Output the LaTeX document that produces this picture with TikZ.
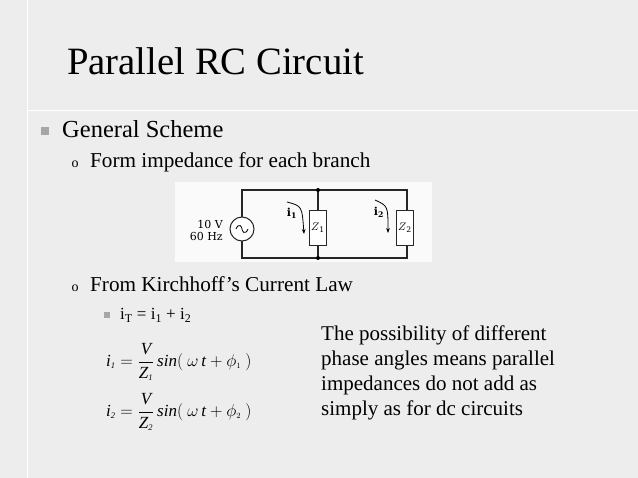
\documentclass[tikz,border=0pt]{standalone}
\usepackage{amsmath}
\usepackage{fontspec}
\setmainfont{Liberation Serif}
\newfontfamily\cirf{DejaVu Serif}
\usetikzlibrary{arrows.meta,calc}
\begin{document}
\begin{tikzpicture}[x=1pt,y=-1pt,
  txt/.style={anchor=base west,inner sep=0pt,text=black},
  wire/.style={line width=1.2pt,draw=black!85},
  zbox/.style={draw=black!85,line width=1pt,fill=white,minimum width=17pt,minimum height=35pt,inner sep=0pt,font=\cirf\fontsize{11}{12}\selectfont},
  sq/.style={fill=black!35,minimum size=8pt,inner sep=0pt},
  ob/.style={anchor=base,inner sep=0pt,font=\fontsize{14}{14}\selectfont},
  cur/.style={-{Stealth[length=5pt]},line width=0.8pt}]
\useasboundingbox (0,0) rectangle (638,478);
\fill[gray!14] (0,0) rectangle (638,478);
\draw[white,line width=1pt] (27,111) -- (638,111);
\draw[white,line width=0.8pt] (27,0) -- (27,478);
\node[txt,font=\fontsize{38.7}{40}\selectfont] (title) at (67,75) {Parallel RC Circuit};
\node[sq] (b1) at (45,131) {};
\node[txt,font=\fontsize{24.5}{28}\selectfont] (gs) at (62,138) {General Scheme};
\node[ob] (o1) at (75,168) {o};
\node[txt,font=\fontsize{21.2}{24}\selectfont] (fi) at (90,168) {Form impedance for each branch};
% circuit
\fill[white!80!gray!20] (175,182) rectangle (432,262);
\coordinate (tl) at (242,190); \coordinate (tm) at (318,190); \coordinate (tr) at (407,190);
\coordinate (bl) at (242,258); \coordinate (bm) at (318,258); \coordinate (br) at (407,258);
\draw[wire] (tl) -- (tr) -- (br) -- (bl) -- cycle;
\draw[wire] (tm) -- (bm);
\fill (tm) circle (2pt); \fill (bm) circle (2pt);
\node[circle,draw=black!85,line width=1pt,fill=white,minimum size=24pt,inner sep=0pt] (src) at (242,229) {};
\draw[line width=0.8pt] ($(src)+(-6,0)$) .. controls ($(src)+(-3,-7)$) and ($(src)+(0,-2)$) .. ($(src)$) .. controls ($(src)+(0,2)$) and ($(src)+(3,7)$) .. ($(src)+(6,0)$);
\node[zbox] (z1) at (318,228) {$Z$\textsubscript{1}};
\node[zbox] (z2) at (405,228) {$Z$\textsubscript{2}};
\node[inner sep=0pt,font=\cirf\fontsize{11}{12}\selectfont,align=right,anchor=east] (src lbl) at (223,230) {10 V\\60 Hz};
\node[inner sep=0pt,font=\cirf\bfseries\fontsize{11}{12}\selectfont] (i1) at (292,213) {i\textsubscript{1}};
\node[inner sep=0pt,font=\cirf\bfseries\fontsize{11}{12}\selectfont] (i2) at (379,212) {i\textsubscript{2}};
\coordinate (a1s) at (287,202); \coordinate (a1e) at (304,234);
\coordinate (a2s) at (375,200); \coordinate (a2e) at (388,233);
\draw[cur] (a1s) .. controls (302,206) .. (a1e);
\draw[cur] (a2s) .. controls (388,206) .. (a2e);
\node[ob] (o2) at (75,292) {o};
\node[txt,font=\fontsize{21.2}{24}\selectfont] (kcl) at (90,292) {From Kirchhoff’s Current Law};
\node[sq,minimum size=6pt] (b2) at (107,315) {};
\node[txt,font=\fontsize{17}{20}\selectfont] (it) at (120,320) {i\textsubscript{T} = i\textsubscript{1} + i\textsubscript{2}};
\node[anchor=west,inner sep=0pt,font=\fontsize{17}{20}\selectfont] (e1) at (106,362) {$\mathit{i_{\scriptscriptstyle 1}} = \dfrac{\mathit{V}}{\mathit{Z_{\scriptscriptstyle 1}}}\,\mathit{sin(}\ \omega\,\mathit{t} + \phi_{\scriptscriptstyle 1}\ \mathit{)}$};
\node[anchor=west,inner sep=0pt,font=\fontsize{17}{20}\selectfont] (e2) at (106,412) {$\mathit{i_{\scriptscriptstyle 2}} = \dfrac{\mathit{V}}{\mathit{Z_{\scriptscriptstyle 2}}}\,\mathit{sin(}\ \omega\,\mathit{t} + \phi_{\scriptscriptstyle 2}\ \mathit{)}$};
\node[inner sep=0pt,font=\fontsize{21}{25}\selectfont,align=left,anchor=north west] (note) at (321,326) {The possibility of different\\phase angles means parallel\\impedances do not add as\\simply as for dc circuits};
\end{tikzpicture}
\end{document}
